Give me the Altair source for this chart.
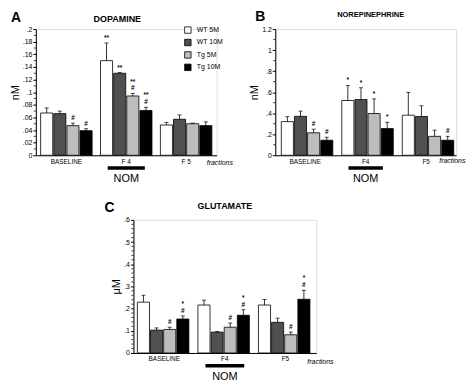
import altair as alt
import pandas as pd

FONT = "Liberation Sans"

groups = ["WT 5M", "WT 10M", "Tg 5M", "Tg 10M"]
group_colors = ["#ffffff", "#505050", "#bdbdbd", "#000000"]

# Panel A: dopamine (nM)
da_fractions = ["BASELINE", "F 4", "F 5"]
da_mean = [0.067, 0.066, 0.047, 0.039, 0.150, 0.130, 0.094, 0.071, 0.048, 0.057, 0.050, 0.047]
da_sem = [0.008, 0.004, 0.004, 0.003, 0.028, 0.001, 0.004, 0.005, 0.004, 0.007, 0.001, 0.006]
da_sig_lo = ["", "", "#", "#", "**", "**", "#", "#", "", "", "", ""]
da_sig_hi = ["", "", "", "", "", "", "**", "**", "", "", "", ""]
da_major = [0, 0.02, 0.04, 0.06, 0.08, 0.1, 0.12, 0.14, 0.16, 0.18, 0.2]
da_minor = [0.01, 0.03, 0.05, 0.07, 0.09, 0.11, 0.13, 0.15, 0.17, 0.19]

# Panel B: norepinephrine (nM)
ne_fractions = ["BASELINE", "F4", "F5"]
ne_mean = [0.32, 0.37, 0.214, 0.143, 0.521, 0.530, 0.397, 0.254, 0.381, 0.369, 0.180, 0.143]
ne_sem = [0.047, 0.05, 0.034, 0.028, 0.143, 0.112, 0.139, 0.059, 0.217, 0.102, 0.059, 0.037]
ne_sig_lo = ["", "", "#", "#", "*", "*", "*", "*", "", "", "", "#"]
ne_sig_hi = ["", "", "", "", "", "", "", "", "", "", "", ""]
ne_major = [0, 0.2, 0.4, 0.6, 0.8, 1.0, 1.2]
ne_minor = [0.1, 0.3, 0.5, 0.7, 0.9, 1.1]

# Panel C: glutamate (uM)
gl_fractions = ["BASELINE", "F4", "F5"]
gl_mean = [0.229, 0.103, 0.106, 0.153, 0.216, 0.094, 0.116, 0.170, 0.216, 0.138, 0.082, 0.242]
gl_sem = [0.031, 0.010, 0.010, 0.014, 0.022, 0.003, 0.019, 0.025, 0.025, 0.019, 0.012, 0.040]
gl_sig_lo = ["", "", "#", "#", "", "", "#", "#", "", "", "#", "#"]
gl_sig_hi = ["", "", "", "*", "", "", "", "*", "", "", "", "*"]
gl_major = [0, 0.1, 0.2, 0.3, 0.4, 0.5, 0.6]
gl_minor = [0.02, 0.04, 0.06, 0.08, 0.12, 0.14, 0.16, 0.18, 0.22, 0.24, 0.26, 0.28,
            0.32, 0.34, 0.36, 0.38, 0.42, 0.44, 0.46, 0.48, 0.52, 0.54, 0.56, 0.58]

LABEL_EXPR = ("datum.value == 0 ? '0' : (datum.value < 1 ? "
              "replace(format(datum.value, '.2~f'), '0.', '.') : format(datum.value, '.1~f'))")


def panel(fracs, mean, sem, lo, hi, ymax, major, minor, unit, title, letter,
          W, H, pi, po, title_dx, title_dy, letter_dx, letter_dy, frac_dx, frac_dy,
          title_size=9, show_legend=False, right_pad=None):
    rows = []
    for i, f in enumerate(fracs):
        for j, g in enumerate(groups):
            k = i * 4 + j
            rows.append(dict(frac=f, group=g, mean=mean[k], top=mean[k] + sem[k],
                             lo=lo[k], hi=hi[k]))
    df = pd.DataFrame(rows)

    xaxis = alt.Axis(title=None, labelAngle=0, ticks=False, domainColor="black",
                     domainWidth=1, labelFontSize=6.5, labelFont=FONT,
                     labelColor="black", labelPadding=3)
    xscale = alt.Scale(paddingInner=pi, paddingOuter=po)
    x = alt.X("frac:N", sort=fracs, scale=xscale, axis=xaxis)
    xo = alt.XOffset("group:N", sort=groups, scale=alt.Scale(paddingInner=0.08))
    yscale = alt.Scale(domain=[0, ymax], nice=False, zero=True)
    yaxis = alt.Axis(values=major, labelExpr=LABEL_EXPR, grid=False, title=unit,
                     titleFont=FONT, titleFontSize=11, titleFontWeight="normal",
                     titleColor="black", titlePadding=2, tickSize=3,
                     tickColor="black", domainColor="black", labelFont=FONT,
                     labelFontSize=7, labelColor="black", labelPadding=1,
                     labelOverlap=False, labelFlush=False)

    def Y(field):
        return alt.Y(field, scale=yscale, axis=yaxis)

    if show_legend:
        legend = alt.Legend(orient="none", legendX=W - 33, legendY=-3, title=None,
                            symbolType="square", symbolSize=42, symbolStrokeColor="black",
                            symbolStrokeWidth=0.8, symbolOpacity=1, labelFont=FONT,
                            labelFontSize=7, labelColor="black", rowPadding=2.5,
                            labelOffset=5)
    else:
        legend = None
    color = alt.Color("group:N", sort=groups,
                      scale=alt.Scale(domain=groups, range=group_colors), legend=legend)

    base = alt.Chart(df).encode(x=x, xOffset=xo)

    bars = base.mark_bar(stroke="black", strokeWidth=0.8, opacity=1).encode(
        y=Y("mean:Q"), fill=color)
    err = base.mark_rule(color="black", strokeWidth=0.8).encode(y=Y("mean:Q"), y2="top:Q")
    cap = base.mark_tick(color="black", thickness=1, size=4, orient="horizontal").encode(
        y=Y("top:Q"))
    t_lo = base.mark_text(font=FONT, fontSize=6.5, fontWeight="bold", dy=-5,
                          baseline="middle", color="black").encode(y=Y("top:Q"), text="lo:N")
    t_hi = base.mark_text(font=FONT, fontSize=6.5, fontWeight="bold", dy=-12,
                          baseline="middle", color="black").encode(y=Y("top:Q"), text="hi:N")

    mt = alt.Chart(pd.DataFrame({"v": minor})).mark_rule(color="black", strokeWidth=0.8).encode(
        y=Y("v:Q"), x=alt.value(-2), x2=alt.value(0))

    nom_df = pd.DataFrame({"frac": [fracs[1]], "t": ["NOM"]})
    nom_bar = alt.Chart(nom_df).mark_bar(color="black", width={"band": 0.72}).encode(
        x=alt.X("frac:N", sort=fracs, scale=xscale, axis=xaxis),
        y=alt.value(H + 11), y2=alt.value(H + 14.5))
    nom_txt = alt.Chart(nom_df).mark_text(font=FONT, fontSize=11, color="black",
                                          baseline="middle").encode(
        x=alt.X("frac:N", sort=fracs, scale=xscale, axis=xaxis),
        y=alt.value(H + 24), text="t:N")

    lab_df = pd.DataFrame({"t": [title], "l": [letter], "f": ["fractions"], "s": ["."]})
    ttl = alt.Chart(lab_df).mark_text(font=FONT, fontSize=title_size, fontWeight="bold",
                                      color="black", baseline="middle").encode(
        x=alt.value(title_dx), y=alt.value(title_dy), text="t:N")
    let = alt.Chart(lab_df).mark_text(font=FONT, fontSize=14, fontWeight="bold",
                                      color="black", baseline="middle").encode(
        x=alt.value(letter_dx), y=alt.value(letter_dy), text="l:N")
    frc = alt.Chart(lab_df).mark_text(font=FONT, fontSize=7, fontStyle="italic",
                                      color="black", baseline="middle", align="left").encode(
        x=alt.value(W + frac_dx), y=alt.value(H + frac_dy), text="f:N")
    layers = [bars, err, cap, t_lo, t_hi, mt, nom_bar, nom_txt, ttl, let, frc]
    if right_pad is not None:
        spacer = alt.Chart(lab_df).mark_text(font=FONT, fontSize=7, opacity=0,
                                             align="left", baseline="middle").encode(
            x=alt.value(W + right_pad), y=alt.value(H / 2), text="s:N")
        layers.append(spacer)

    return alt.layer(*layers).properties(width=W, height=H)


A = panel(da_fractions, da_mean, da_sem, da_sig_lo, da_sig_hi, 0.2, da_major, da_minor,
          "nM", "DOPAMINE", "A", W=182, H=127, pi=0.14, po=0.08,
          title_dx=82, title_dy=-10, letter_dx=-20, letter_dy=-11,
          frac_dx=-10, frac_dy=8, show_legend=True)
B = panel(ne_fractions, ne_mean, ne_sem, ne_sig_lo, ne_sig_hi, 1.2, ne_major, ne_minor,
          "nM", "NOREPINEPHRINE", "B", W=182, H=127, pi=0.21, po=0.1,
          title_dx=96, title_dy=-14, letter_dx=-15, letter_dy=-12,
          frac_dx=-17, frac_dy=6, title_size=7.5)
C = panel(gl_fractions, gl_mean, gl_sem, gl_sig_lo, gl_sig_hi, 0.6, gl_major, gl_minor,
          "μM", "GLUTAMATE", "C", W=184, H=134, pi=0.11, po=0.065,
          title_dx=92, title_dy=-14, letter_dx=-24, letter_dy=-12,
          frac_dx=-9, frac_dy=9, right_pad=50)

row1 = alt.hconcat(A, B, spacing=14).resolve_scale(color="independent", fill="independent")
chart = alt.vconcat(row1, C, spacing=15, center=True).resolve_scale(
    color="independent", fill="independent").properties(
    padding={"left": 0, "top": 0, "right": 0, "bottom": 0}
).configure_view(stroke=None).configure(background="white")

chart.save("out.html", embed_options={"renderer": "svg", "actions": False})
